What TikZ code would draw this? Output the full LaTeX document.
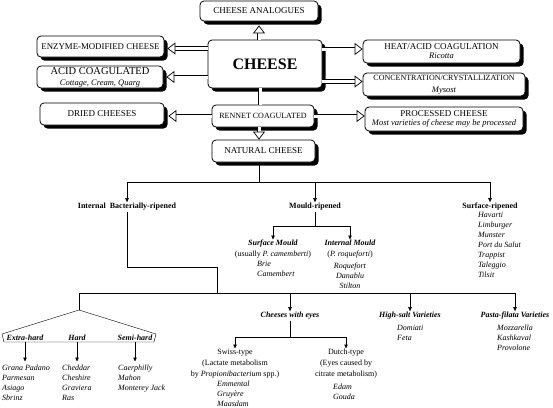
\documentclass[tikz,border=0pt]{standalone}
\usepackage{fontspec}
\setmainfont{Liberation Serif}
\usetikzlibrary{arrows.meta,shadows}

\begin{document}
\begin{tikzpicture}[x=1pt,y=-1pt,
  box/.style={draw, fill=white, rounded corners=4pt, line width=0.8pt, align=center, inner sep=1pt,
    drop shadow={fill=black, opacity=1, shadow xshift=3.5pt, shadow yshift=-3.5pt}},
  hollow/.style={double, double distance=3pt, line width=0.6pt,
    -{Triangle[length=8pt,width=12pt,fill=white,line width=0.7pt]}},
  tree/.style={line width=0.5pt, -{Triangle[length=4pt,width=3.5pt]}},
  head/.style={font=\fontsize{8}{10}\selectfont\bfseries, inner sep=1pt},
  sub/.style={font=\fontsize{8}{10}\selectfont\bfseries\itshape, inner sep=1pt},
  list/.style={font=\fontsize{8}{10}\selectfont\itshape, align=left, inner sep=0pt, anchor=north west},
  txt/.style={font=\fontsize{8}{11}\selectfont, align=center, inner sep=0pt, anchor=north}]
\useasboundingbox (0,0) rectangle (553,407);

% boxes
\node[box, minimum width=118pt, minimum height=20pt, font=\fontsize{9}{10}\selectfont] (ana) at (259,11) {CHEESE ANALOGUES};
\node[box, minimum width=114pt, minimum height=48pt, font=\fontsize{16}{18}\selectfont\bfseries] (cheese) at (265,64) {CHEESE};
\node[box, minimum width=127pt, minimum height=21pt, font=\fontsize{8.8}{10}\selectfont] (enz) at (100.5,46.5) {ENZYME-MODIFIED CHEESE};
\node[box, minimum width=126pt, minimum height=22pt] (acid) at (100,77) {\fontsize{10.5}{10}\selectfont ACID COAGULATED\\[-1pt]\fontsize{8.5}{9}\selectfont\itshape Cottage, Cream, Quarg};
\node[box, minimum width=124pt, minimum height=22pt, font=\fontsize{9}{10}\selectfont] (dried) at (102,114) {DRIED CHEESES};
\node[box, minimum width=102pt, minimum height=22pt, font=\fontsize{8}{10}\selectfont] (rennet) at (263,116) {RENNET COAGULATED};
\node[box, minimum width=103pt, minimum height=22pt, font=\fontsize{9}{10}\selectfont] (natural) at (263.5,151) {NATURAL CHEESE};
\node[box, minimum width=157pt, minimum height=23pt, font=\fontsize{9}{9}\selectfont] (heat) at (441.5,51.5) {HEAT/ACID COAGULATION\\\fontsize{8.5}{9}\selectfont\itshape Ricotta};
\node[box, minimum width=162pt, minimum height=23pt, font=\fontsize{8}{9}\selectfont] (conc) at (444,84.5) {CONCENTRATION/CRYSTALLIZATION\\[3pt]\fontsize{8.5}{9}\selectfont\itshape Mysost};
\node[box, minimum width=158pt, minimum height=24pt, font=\fontsize{9}{9}\selectfont] (proc) at (444,119) {PROCESSED CHEESE\\\fontsize{8.5}{9}\selectfont\itshape Most varieties of cheese may be processed};

% hollow arrows
\draw[hollow] (cheese.north -| ana.south) -- ([yshift=-4pt]ana.south);
\draw[hollow] ([yshift=-2pt]cheese.west |- enz.east) -- ([xshift=3pt,yshift=-2pt]enz.east);
\draw[hollow] (cheese.west |- acid.east) -- ([xshift=3pt]acid.east);
\draw[hollow] ([yshift=2.5pt]cheese.east |- heat.west) -- ([yshift=2.5pt]heat.west);
\draw[hollow] ([yshift=3pt]cheese.east |- conc.west) -- ([yshift=3pt]conc.west);
\draw[double, double distance=3pt, line width=0.6pt] ([xshift=-5pt]cheese.south) -- ([xshift=-5pt]cheese.south |- rennet.north);
\draw[hollow] (rennet.west) -- ([xshift=4pt]rennet.west -| dried.east);
\draw[hollow] (rennet.east) -- (rennet.east -| proc.west);
\draw[hollow] ([xshift=-4pt]rennet.south) -- ([xshift=-4pt]rennet.south |- natural.north);

% natural cheese tree
\coordinate (top) at (259,182);
\node[head] (ibr) at (127,207) {Internal\ \ Bacterially-ripened};
\node[head] (mould) at (315,207) {Mould-ripened};
\node[head] (srp) at (490,207) {Surface-ripened};
\node[list] (srplist) at (478,211.5) {Havarti\\Limburger\\Munster\\Port du Salut\\Trappist\\Taleggio\\Tilsit};
\draw (natural.south -| top) -- (top);
\draw[tree] (top) -| (ibr.north);
\draw[tree] (top) -| (mould.north);
\draw[tree] (top) -| (srp.north);

% mould-ripened
\coordinate (mj) at (315,226);
\node[txt] (sfm) at (273,239.5) {\textbf{\textit{Surface Mould}}\\(usually \textit{P. camemberti})};
\node[list] (sfmlist) at (257,260.5) {Brie\\Camembert};
\node[txt] (inm) at (350,239.5) {\textbf{\textit{Internal Mould}}\\(\textit{P. roqueforti})\\[1pt]\textit{Roquefort}\\[-1pt]\textit{Danablu}\\[-1pt]\textit{Stilton}};
\draw (mould.south) -- (mj);
\draw[tree] (mj) -| (sfm.north);
\draw[tree] (mj) -| (inm.north);

% internal bacterially-ripened
\coordinate (bj) at (217,267);
\coordinate (bk) at (217,293);
\coordinate (apex) at (79,310);
\draw (ibr.south) |- (bj) -- (bk);
\draw (bk) -| (apex);
\node[sub] (eyes) at (290,316) {Cheeses with eyes};
\node[sub] (salt) at (410,316) {High-salt Varieties};
\node[sub] (pasta) at (515,316) {Pasta-filata Varieties};
\draw[tree] (bk) -| (eyes.north);
\draw[tree] (bk) -| (salt.north);
\draw[tree] (bk) -| (pasta.north);
\node[list] (saltlist) at (397,324.5) {Domiati\\Feta};
\node[list] (pastalist) at (497,324.5) {Mozzarella\\Kashkaval\\Provolone};

% hardness groups
\coordinate (rl) at (2,334);
\coordinate (rr) at (156,334);
\coordinate (bl) at (4,342);
\coordinate (br) at (154,342);
\draw (rl) -- (apex) -- (rr) -- (br) -- (bl) -- cycle;
\node[sub] (xh) at (25,338) {Extra-hard};
\node[sub] (hd) at (77,338) {Hard};
\node[sub] (sh) at (135,338) {Semi-hard};
\node[list] (gp) at (2,364.5) {Grana Padano\\Parmesan\\Asiago\\Sbrinz};
\node[list] (cd) at (62,364.5) {Cheddar\\Cheshire\\Graviera\\Ras};
\node[list] (cp) at (118,364.5) {Caerphilly\\Mahon\\Monterey Jack};
\draw[tree, shorten >=3pt] (xh |- bl) -- (xh |- gp.north);
\draw[tree, shorten >=3pt] (hd |- bl) -- (hd |- cd.north);
\draw[tree, shorten >=3pt] (sh |- bl) -- (sh |- cp.north);

% cheeses with eyes
\coordinate (ej) at (290,337);
\draw (eyes.south) -- (ej);
\node[txt] (swiss) at (235,348.5) {Swiss-type\\(Lactate metabolism\\by \textit{Propionibacterium} spp.)};
\node[list] (swisslist) at (217,380.5) {Emmental\\Gruyère\\Maasdam};
\node[txt] (dutch) at (346,348.5) {Dutch-type\\(Eyes caused by\\citrate metabolism)};
\node[list] (dutchlist) at (333,383.5) {Edam\\Gouda};
\draw[tree] (ej) -| (swiss.north);
\draw[tree] (ej) -| (dutch.north);
\end{tikzpicture}
\end{document}
